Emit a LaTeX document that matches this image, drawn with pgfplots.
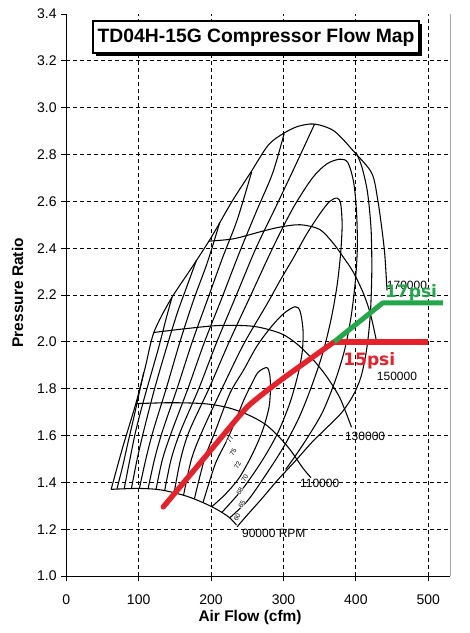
\documentclass[border=0pt]{standalone}
\usepackage{fontspec}
\setmainfont{Liberation Sans}
\newfontfamily\dejavu{DejaVu Sans}
\usepackage{pgfplots}
\pgfplotsset{compat=1.18}
\usetikzlibrary{shadows}
\definecolor{mapred}{RGB}{232,32,42}
\definecolor{mapgreen}{RGB}{34,168,74}
\begin{document}
\begin{tikzpicture}
\useasboundingbox (-49.7pt,-42.75pt) rectangle (302.8pt,432pt);
\begin{axis}[
  at={(0,0)}, anchor=south west,
  scale only axis, width=287.8pt, height=421.5pt,
  xmin=0, xmax=530, ymin=1, ymax=3.4,
  axis x line*=bottom, axis y line*=left,
  axis line style={line width=0.75pt, black},
  xtick={0,100,200,300,400,500},
  xticklabels={0,100,200,300,400,500},
  ytick={1.0,1.2,1.4,1.6,1.8,2.0,2.2,2.4,2.6,2.8,3.0,3.2},
  yticklabels={1.0,1.2,1.4,1.6,1.8,2.0,2.2,2.4,2.6,2.8,3.0,3.2},
  extra y ticks={3.4}, extra y tick labels={3.4},
  extra y tick style={grid=none},
  tick align=outside, major tick length=3.75pt,
  major tick style={black, line width=0.75pt},
  ticklabel style={font=\fontsize{10.5}{12}\selectfont},
  xticklabel style={yshift=-6.5pt},
  xmajorgrids, ymajorgrids,
  major grid style={black, line width=0.6pt, dash pattern=on 3pt off 2.25pt},
  xlabel={Air Flow (cfm)}, ylabel={Pressure Ratio},
  x label style={at={(axis description cs:0.479,-0.0747)}, anchor=center, font=\bfseries\fontsize{11.6}{14}\selectfont},
  y label style={at={(axis description cs:-0.127,0.504)}, anchor=center, font=\bfseries\fontsize{11.6}{14}\selectfont},
  clip=false,
  every axis plot/.append style={black, line width=0.8pt},
]
% outer boundary (surge, top, 170000)
\addplot[smooth] coordinates {(62,1.37) (78,1.55) (96,1.735) (109,1.89) (121,2.04) (144,2.18) (174,2.32) (201,2.45) (229,2.60) (254,2.72) (279,2.84) (300,2.89) (320,2.92) (343,2.93) (370,2.90) (398,2.81) (422,2.72) (430,2.61) (436,2.48) (440,2.37) (443,2.22)};
% 90000 rpm
\addplot[smooth] coordinates {(62,1.37) (100,1.374) (132,1.367) (168,1.339) (201,1.296) (224,1.253) (235,1.218)};
% 110000
\addplot[smooth] coordinates {(96,1.736) (144,1.74) (190,1.736) (222,1.72) (250,1.69) (274,1.65) (292,1.60) (309,1.54) (327,1.46) (338,1.42)};
% 130000
\addplot[smooth] coordinates {(121,2.04) (167,2.057) (213,2.07) (259,2.066) (296,2.036) (319,1.99) (342,1.92) (360,1.85) (378,1.76) (394,1.635)};
% 150000
\addplot[smooth] coordinates {(197,2.43) (231,2.44) (268,2.47) (295,2.49) (323,2.50) (350,2.48) (369,2.42) (383,2.36) (396,2.30) (410,2.21) (420,2.12) (428,2.01)};
% choke
\addplot[smooth] coordinates {(236,1.21) (247,1.25) (270,1.33) (292,1.41) (316,1.49) (339,1.57) (362,1.64) (381,1.70) (396,1.77) (407,1.85) (415,1.97) (420,2.12) (422,2.30) (421,2.48) (416,2.64) (408,2.75) (400,2.81)};
% efficiency contours: open legs ending on the surge / top boundary
\addplot[smooth] coordinates {(70,1.372) (78,1.47) (86,1.58) (95,1.70) (102,1.80) (107,1.87)};
\addplot[smooth] coordinates {(80,1.373) (88,1.50) (96,1.62) (106,1.74) (117,1.86) (128,1.98) (138,2.10) (146,2.19)};
\addplot[smooth] coordinates {(90,1.374) (98,1.50) (107,1.62) (122,1.80) (137,1.96) (153,2.12) (167,2.24) (180,2.35)};
\addplot[smooth] coordinates {(101,1.374) (110,1.50) (120,1.62) (138,1.80) (157,2.00) (176,2.18) (195,2.34) (212,2.51)};
\addplot[smooth] coordinates {(113,1.372) (122,1.50) (133,1.62) (153,1.80) (174,2.00) (195,2.18) (216,2.36) (236,2.52) (256,2.725)};
\addplot[smooth] coordinates {(124,1.370) (133,1.50) (146,1.62) (168,1.80) (191,2.00) (214,2.18) (239,2.38) (263,2.56) (285,2.72) (301,2.89)};
\addplot[smooth] coordinates {(136,1.366) (145,1.50) (158,1.62) (183,1.80) (208,2.00) (235,2.20) (262,2.40) (290,2.58) (316,2.75) (343,2.93)};
% closed-top contours
\addplot[smooth] coordinates {(149,1.356) (158,1.50) (170,1.62) (197,1.80) (225,2.00) (255,2.20) (285,2.40) (313,2.57) (340,2.70) (360,2.76) (378,2.78) (389,2.765) (397,2.68) (401,2.55) (402,2.40) (399,2.25) (393,2.10) (384,1.96) (371,1.83) (354,1.70) (335,1.60) (318,1.52) (303,1.455)};
\addplot[smooth] coordinates {(162,1.345) (173,1.50) (188,1.62) (215,1.80) (245,1.99) (277,2.16) (295,2.26) (314,2.36) (332,2.46) (351,2.55) (364,2.60) (374,2.614) (379,2.59) (381,2.50) (379,2.38) (374,2.24) (366,2.10) (355,1.96) (340,1.82) (322,1.68) (300,1.55) (273,1.42) (250,1.32) (226,1.249)};
\addplot[smooth] coordinates {(177,1.33) (191,1.50) (206,1.62) (226,1.78) (245,1.88) (263,1.98) (282,2.06) (300,2.12) (316,2.15) (323,2.13) (327,2.05) (326,1.96) (320,1.86) (309,1.74) (292,1.61) (270,1.49) (243,1.37) (215,1.272)};
\addplot[smooth] coordinates {(189,1.315) (206,1.48) (222,1.58) (236,1.68) (245,1.75) (256,1.82) (265,1.87) (277,1.89) (281,1.86) (282,1.80) (280,1.72) (271,1.62) (257,1.52) (239,1.42) (220,1.35) (201,1.296)};
% boost lines
\addplot[mapred, line width=4pt, line cap=round, line join=round, smooth, tension=0.3] coordinates {(134,1.295) (192,1.509) (250,1.722) (300,1.845) (370,2.0)};
\addplot[mapred, line width=4pt, line join=round] coordinates {(370,2.0) (500,2.0)};
\addplot[mapgreen, line width=3.75pt, line join=round] coordinates {(370,2.0) (437,2.166) (520,2.166)};
% right plot-area border
\draw[gray!70, line width=0.6pt] (rel axis cs:1,0) -- (rel axis cs:1,1);
% speed labels
\begin{scope}[every node/.style={font=\fontsize{9}{10}\selectfont, inner sep=0pt, anchor=west}]
\node at (axis cs:442.5,2.243) {170000};
\node at (axis cs:428.7,1.854) {150000};
\node at (axis cs:384.7,1.598) {130000};
\node at (axis cs:322.6,1.397) {110000};
\node at (axis cs:242.5,1.184) {90000 RPM};
\end{scope}
% efficiency labels
\begin{scope}[every node/.style={font=\fontsize{5}{5.5}\selectfont, inner sep=0pt, rotate=62, fill=white}]
\node at (axis cs:235.9,1.252) {60};
\node at (axis cs:242.5,1.307) {65};
\node at (axis cs:239.7,1.363) {68};
\node at (axis cs:246.6,1.418) {70};
\node at (axis cs:236.5,1.474) {72};
\node at (axis cs:230.4,1.529) {75};
\node at (axis cs:226.3,1.585) {77};
\end{scope}
\node[anchor=base west, inner sep=0pt, text=mapred, font=\dejavu\bfseries\fontsize{12.8}{14}\selectfont] at (axis cs:382.2,1.897) {15psi};
\node[anchor=base west, inner sep=0pt, text=mapgreen, font=\dejavu\bfseries\fontsize{12.8}{14}\selectfont] at (axis cs:440,2.19) {17psi};
% title box
\node[draw=black, line width=1.1pt, fill=white, minimum width=244.5pt, minimum height=24pt, inner sep=0pt,
  drop shadow={shadow xshift=2.25pt, shadow yshift=-2.25pt, opacity=1, fill=black},
  font=\bfseries\fontsize{14.5}{16}\selectfont] at (axis cs:262.2,3.301) {TD04H-15G Compressor Flow Map};
\end{axis}
\end{tikzpicture}
\end{document}
